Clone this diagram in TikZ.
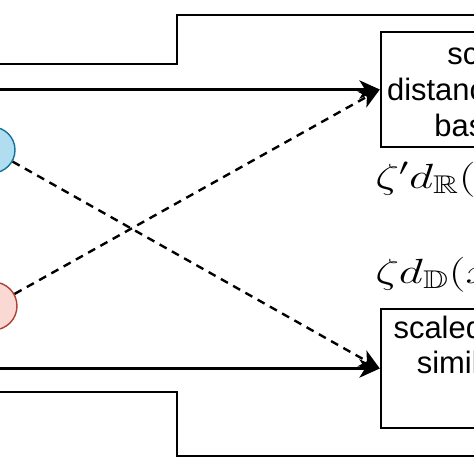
\documentclass[tikz,border=0pt]{standalone}
\usepackage{fontspec}
\setmainfont{Liberation Sans}
\usepackage{amssymb}
\usetikzlibrary{arrows.meta}

\definecolor{qfill}{HTML}{B1DDF0}
\definecolor{qline}{HTML}{10739E}
\definecolor{kfill}{HTML}{FAD9D5}
\definecolor{kline}{HTML}{AE4132}

\begin{document}
\begin{tikzpicture}[
  blk/.style={draw, line width=1.7pt, align=center, inner sep=0pt, font=\fontsize{22}{25.6}\selectfont},
  arr/.style={line width=1.7pt, -{Stealth[length=14.5pt, width=13pt, inset=4pt]}},
  dsh/.style={arr, dash pattern=on 5.7pt off 4.3pt},
  wire/.style={line width=1.7pt},
  lbl/.style={anchor=base west, inner sep=0pt, font=\fontsize{26}{30}\selectfont}]
\useasboundingbox (0,0) rectangle (11.85,11.85);
\clip (0,0) rectangle (11.85,11.85);

% inputs
 \node[circle, draw=qline, fill=qfill, line width=1pt, minimum size=1.15cm] at (-0.2, 8.1) (q) {};
 \node[circle, draw=kline, fill=kfill, line width=1pt, minimum size=1.2cm] at (-0.175, 4.2) (k) {};

% similarity blocks
 \node[blk, minimum width=5.55cm, minimum height=2.875cm] at (12.3, 9.6125) (dist) {scaled\\distance-based\\baseline};
 \node[blk, minimum width=4.8cm, minimum height=2.975cm] at (11.925, 2.6375) (sim) {};
 \node[align=center, inner sep=0pt, font=\fontsize{22}{25.6}\selectfont] at (11.925, 3.15) (simtxt) {scaled inner\\similarity};

 \node[lbl] at (9.375, 7.15) (dr) {\scalebox{1.35}[1]{$\zeta' d_{\mathbb{R}}(x, y)$}};
 \node[lbl] at (9.375, 4.775) (dd) {\scalebox{1.35}[1]{$\zeta d_{\mathbb{D}}(x, y)$}};

% side wires
 \coordinate (ta) at (-0.5, 10.25);
 \coordinate (tb) at (13, 11.475);
 \coordinate (ba) at (-0.5, 2.05);
 \coordinate (bb) at (13, 0.45);
 \coordinate (ra) at (-0.5, 9.6125);
 \coordinate (da) at (-0.5, 2.6375);

 \draw[wire] (ta) -- (4.425, 10.25) -- (4.425, 11.475) -- (tb);
 \draw[wire] (ba) -- (4.425, 2.05) -- (4.425, 0.45) -- (bb);

 \draw[arr] (ra) -- (dist.west);
 \draw[arr] (da) -- (sim.west);
 \draw[dsh] (k) -- (dist.west);
 \draw[dsh] (q) -- (sim.west);
\end{tikzpicture}
\end{document}
